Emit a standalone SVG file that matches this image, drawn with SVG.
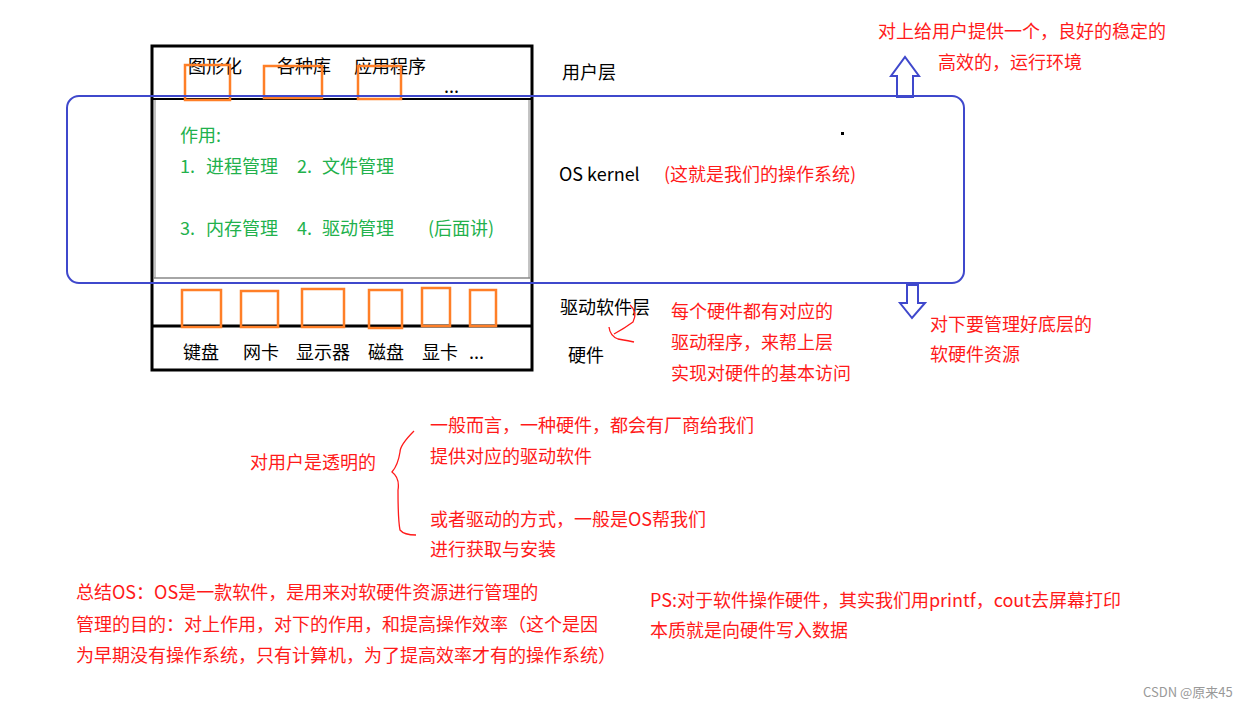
<svg xmlns="http://www.w3.org/2000/svg" width="1255" height="709" viewBox="0 0 1255 709">
<style>
text{font-family:"Noto Sans CJK SC","Noto Sans",sans-serif;font-size:18px}
.k{fill:#000}.r{fill:#ff1a1a}.g{fill:#22b14c}
.o{fill:none;stroke:#ff7f27;stroke-width:2.5}
.b{fill:none;stroke:#3f48cc;stroke-width:2}
.rl{fill:none;stroke:#ff1a1a;stroke-width:1.3}
</style>
<rect width="1255" height="709" fill="#fff"/>
<g id="stack">
<rect x="152" y="46" width="380" height="324" fill="none" stroke="#000" stroke-width="3"/>
<line x1="152" y1="99" x2="532" y2="99" stroke="#000" stroke-width="2"/>
<line x1="154" y1="278" x2="530" y2="278" stroke="#888" stroke-width="1.5"/>
<line x1="152" y1="326" x2="532" y2="326" stroke="#000" stroke-width="3"/>
<line x1="155" y1="100" x2="155" y2="278" stroke="#888" stroke-width="1"/>
<line x1="529" y1="100" x2="529" y2="278" stroke="#888" stroke-width="1"/>
</g>
<g id="user-layer">
<text x="188" y="73" class="k">图形化</text><text x="277" y="73" class="k">各种库</text><text x="354" y="73" class="k">应用程序</text>
<text x="444" y="93" class="k">...</text>
<rect x="185" y="65" width="45" height="35" class="o"/><rect x="264" y="66" width="58" height="32" class="o"/><rect x="358" y="66" width="43" height="33" class="o"/>
<text x="562" y="79" class="k">用户层</text>
</g>
<g id="kernel">
<rect x="67" y="96" width="897" height="187" rx="12" class="b"/>
<text x="180" y="142" class="g">作用:</text>
<text x="180" y="173" class="g">1.</text><text x="206" y="173" class="g">进程管理</text>
<text x="297" y="173" class="g">2.</text><text x="322" y="173" class="g">文件管理</text>
<text x="180" y="235" class="g">3.</text><text x="206" y="235" class="g">内存管理</text>
<text x="297" y="235" class="g">4.</text><text x="322" y="235" class="g">驱动管理</text>
<text x="428" y="235" class="g">(后面讲)</text>
<text x="559" y="181" class="k">OS kernel</text>
<text x="664" y="181" class="r">(这就是我们的操作系统)</text>
<rect x="841" y="132" width="3" height="3" fill="#000"/>
</g>
<g id="driver-layer">
<rect x="182" y="290" width="39" height="37" class="o"/><rect x="241" y="291" width="37" height="36" class="o"/><rect x="302" y="289" width="42" height="38" class="o"/><rect x="369" y="290" width="33" height="38" class="o"/><rect x="422" y="288" width="28" height="38" class="o"/><rect x="470" y="290" width="26" height="36" class="o"/>
<text x="560" y="314" class="k">驱动软件层</text>
</g>
<g id="hardware">
<text x="183" y="359" class="k">键盘</text><text x="243" y="359" class="k">网卡</text><text x="296" y="359" class="k">显示器</text><text x="368" y="359" class="k">磁盘</text><text x="422" y="359" class="k">显卡</text><text x="469" y="359" class="k">...</text>
<text x="568" y="362" class="k">硬件</text>
</g>
<g id="connectors">
<path d="M897 97 V76 H891 L905 57 L919 76 H913 V97 Z" class="b"/>
<path d="M907 285 V303 H900 L912 318 L925 303 H918 V285 Z" class="b"/>
<path class="rl" d="M630 305 Q638 312 633 322 Q625 328 614 334 M609 327 Q610 336 618 339 Q630 341 634 342"/>
<path class="rl" d="M414 431 Q400 445 400 452 Q398 465 392 472 Q400 478 398 490 Q398 520 400 530 Q404 535 416 535"/>
</g>
<g id="notes">
<text x="878" y="38" class="r">对上给用户提供一个，良好的稳定的</text>
<text x="938" y="69" class="r">高效的，运行环境</text>
<text x="930" y="331" class="r">对下要管理好底层的</text>
<text x="930" y="361" class="r">软硬件资源</text>
<text x="671" y="318" class="r">每个硬件都有对应的</text>
<text x="671" y="349" class="r">驱动程序，来帮上层</text>
<text x="671" y="380" class="r">实现对硬件的基本访问</text>
<text x="250" y="469" class="r">对用户是透明的</text>
<text x="430" y="432" class="r">一般而言，一种硬件，都会有厂商给我们</text>
<text x="430" y="463" class="r">提供对应的驱动软件</text>
<text x="430" y="526" class="r">或者驱动的方式，一般是OS帮我们</text>
<text x="430" y="556" class="r">进行获取与安装</text>
<text x="76" y="599" class="r">总结OS：OS是一款软件，是用来对软硬件资源进行管理的</text>
<text x="76" y="631" class="r">管理的目的：对上作用，对下的作用，和提高操作效率（这个是因</text>
<text x="76" y="662" class="r">为早期没有操作系统，只有计算机，为了提高效率才有的操作系统）</text>
<text x="650" y="607" class="r">PS:对于软件操作硬件，其实我们用printf，cout去屏幕打印</text>
<text x="650" y="637" class="r">本质就是向硬件写入数据</text>
<text x="1143" y="697" fill="#999" style="font-size:13px">CSDN @原来45</text>
</g>
</svg>
